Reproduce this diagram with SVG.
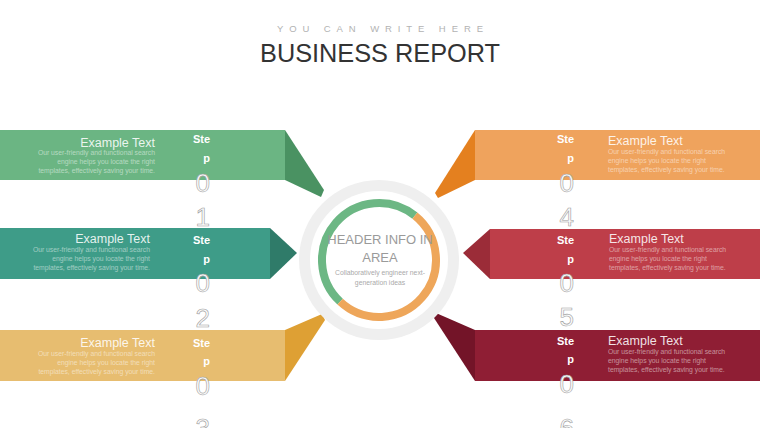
<svg xmlns="http://www.w3.org/2000/svg" width="760" height="428" viewBox="0 0 760 428">
<style>
.t{font-family:"Liberation Sans",Arial,sans-serif}
.ttl{font-size:12.5px;fill:#fff;fill-opacity:.88}
.body{font-size:6.8px;fill:#fff;fill-opacity:.5}
.ste{font-size:11px;font-weight:bold;fill:#fff}
.dig{font-size:26px;fill:#fbfbfb;stroke:#a0a0a0;stroke-width:.6}
.l{text-anchor:end}
</style>
<rect width="760" height="428" fill="#fff"/>
<g id="header">
<text class="t" x="380" y="32" font-size="9.5" fill="#b3b3b3" text-anchor="middle" textLength="206" lengthAdjust="spacing">YOU CAN WRITE HERE</text>
<text class="t" x="380" y="62" font-size="26" fill="#333" text-anchor="middle" textLength="240" lengthAdjust="spacingAndGlyphs">BUSINESS REPORT</text>
</g>
<g id="connectors">
<polygon points="285,130 324,190 321,197 285,180" fill="#4a9262"/>
<polygon points="270,228 297,253 270,279" fill="#2f7b69"/>
<polygon points="285,330 322,314 325,320 285,381" fill="#dea034"/>
<polygon points="475,130 435,193 438,198 475,180" fill="#e4801f"/>
<polygon points="490,229 463,253 490,279" fill="#9b2c38"/>
<polygon points="436,313 475,330 475,381 434,318" fill="#731428"/>
</g>
<g id="step01">
<rect x="0" y="130" width="285" height="50" fill="#6bb583"/>
<text class="t ttl l" x="155" y="147">Example Text</text>
<text class="t body l" x="155" y="155">Our user-friendly and functional search</text>
<text class="t body l" x="155" y="164">engine helps you locate the right</text>
<text class="t body l" x="155" y="173">templates, effectively saving your time.</text>
<text class="t ste l" x="210" y="143">Ste</text>
<text class="t ste l" x="210" y="162">p</text>
<text class="t dig l" x="210" y="192">0</text>
<text class="t dig l" x="210" y="226">1</text>
</g>
<g id="step02">
<rect x="0" y="228" width="270" height="51" fill="#3e9c88"/>
<text class="t ttl l" x="150" y="243">Example Text</text>
<text class="t body l" x="150" y="252">Our user-friendly and functional search</text>
<text class="t body l" x="150" y="261">engine helps you locate the right</text>
<text class="t body l" x="150" y="270">templates, effectively saving your time.</text>
<text class="t ste l" x="210" y="244">Ste</text>
<text class="t ste l" x="210" y="263">p</text>
<text class="t dig l" x="210" y="292">0</text>
<text class="t dig l" x="210" y="327">2</text>
</g>
<g id="step03">
<rect x="0" y="330" width="285" height="51" fill="#e7bd70"/>
<text class="t ttl l" x="155" y="347">Example Text</text>
<text class="t body l" x="155" y="356">Our user-friendly and functional search</text>
<text class="t body l" x="155" y="365">engine helps you locate the right</text>
<text class="t body l" x="155" y="374">templates, effectively saving your time.</text>
<text class="t ste l" x="210" y="347">Ste</text>
<text class="t ste l" x="210" y="365">p</text>
<text class="t dig l" x="210" y="395">0</text>
<text class="t dig l" x="210" y="437">3</text>
</g>
<g id="step04">
<rect x="475" y="130" width="285" height="50" fill="#efa35d"/>
<text class="t ttl" x="608" y="145">Example Text</text>
<text class="t body" x="608" y="154">Our user-friendly and functional search</text>
<text class="t body" x="608" y="163">engine helps you locate the right</text>
<text class="t body" x="608" y="172">templates, effectively saving your time.</text>
<text class="t ste l" x="574" y="143">Ste</text>
<text class="t ste l" x="574" y="162">p</text>
<text class="t dig l" x="574" y="192">0</text>
<text class="t dig l" x="574" y="226">4</text>
</g>
<g id="step05">
<rect x="490" y="229" width="270" height="50" fill="#be3e49"/>
<text class="t ttl" x="609" y="243">Example Text</text>
<text class="t body" x="609" y="252">Our user-friendly and functional search</text>
<text class="t body" x="609" y="261">engine helps you locate the right</text>
<text class="t body" x="609" y="270">templates, effectively saving your time.</text>
<text class="t ste l" x="574" y="244">Ste</text>
<text class="t ste l" x="574" y="263">p</text>
<text class="t dig l" x="574" y="292">0</text>
<text class="t dig l" x="574" y="326">5</text>
</g>
<g id="step06">
<rect x="475" y="330" width="285" height="51" fill="#8f1e34"/>
<text class="t ttl" x="608" y="345">Example Text</text>
<text class="t body" x="608" y="354">Our user-friendly and functional search</text>
<text class="t body" x="608" y="363">engine helps you locate the right</text>
<text class="t body" x="608" y="372">templates, effectively saving your time.</text>
<text class="t ste l" x="574" y="345">Ste</text>
<text class="t ste l" x="574" y="363">p</text>
<text class="t dig l" x="574" y="393">0</text>
<text class="t dig l" x="574" y="437">6</text>
</g>
<g id="center">
<circle cx="379" cy="260" r="80" fill="#efefef"/>
<circle cx="379" cy="260" r="69" fill="#fff"/>
<path d="M340.13,301.69 A57,57 0 0 1 414.87,215.70" fill="none" stroke="#6cb784" stroke-width="8"/>
<path d="M414.87,215.70 A57,57 0 1 1 340.13,301.69" fill="none" stroke="#eea65a" stroke-width="8"/>
<text class="t" x="380" y="244" font-size="13" fill="#9a9a9a" text-anchor="middle">HEADER INFO IN</text>
<text class="t" x="380" y="262" font-size="13" fill="#9a9a9a" text-anchor="middle">AREA</text>
<text class="t" x="380" y="275" font-size="6.8" fill="#aaa" text-anchor="middle">Collaboratively engineer next-</text>
<text class="t" x="380" y="285" font-size="6.8" fill="#aaa" text-anchor="middle">generation ideas</text>
</g>
</svg>
